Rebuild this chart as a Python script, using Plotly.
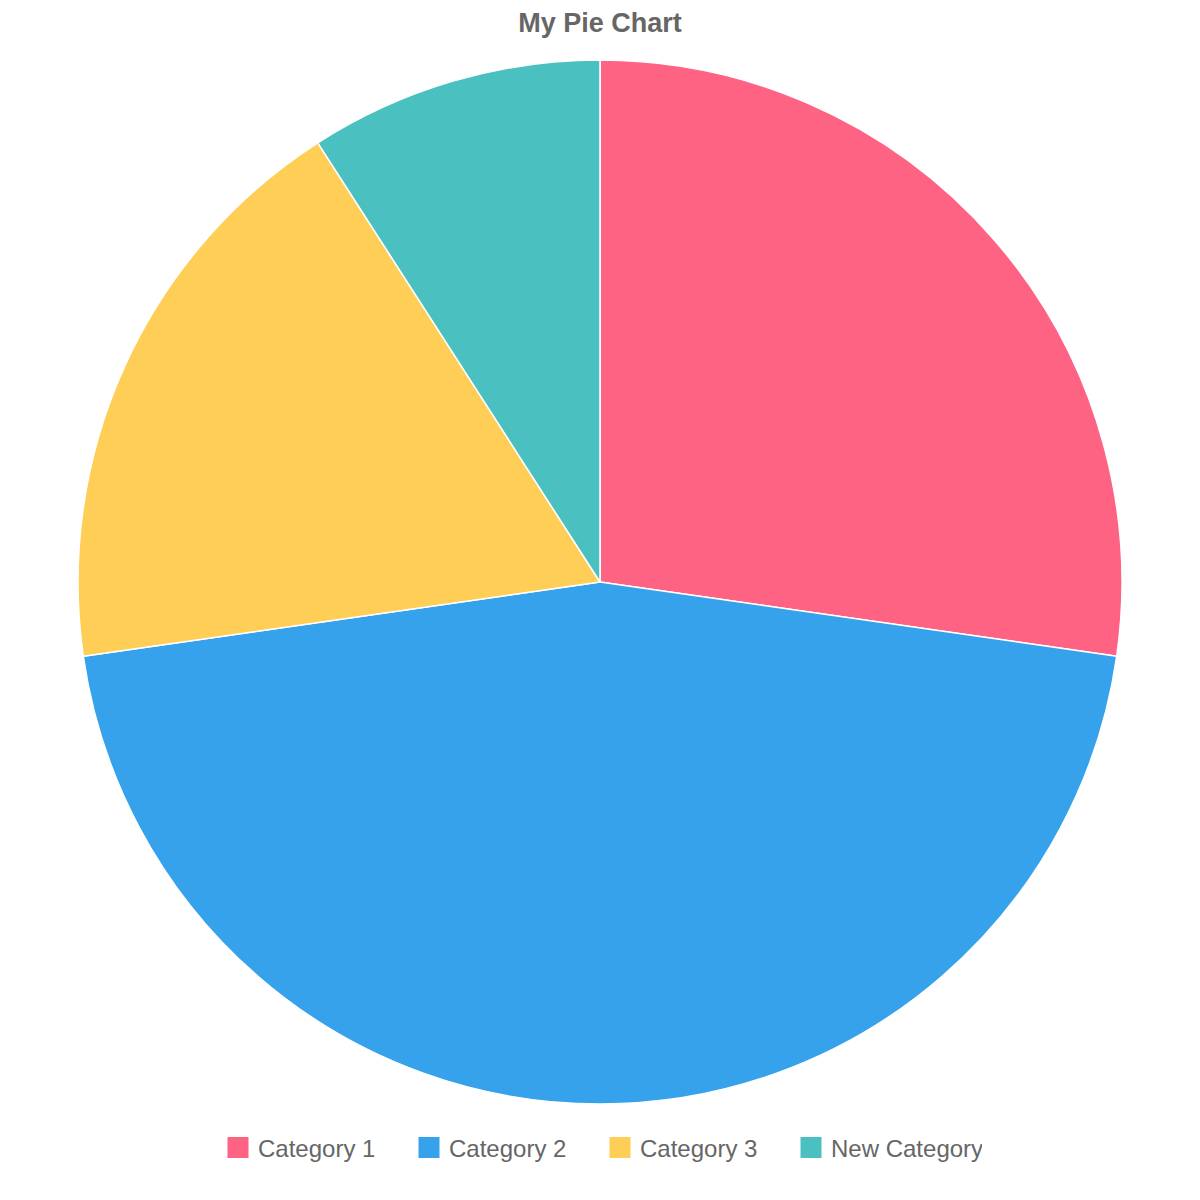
import plotly.graph_objects as go

labels = ["Category 1", "Category 2", "Category 3", "New Category"]
values = [30, 50, 20, 10]
colors = ["#FF6384", "#36A2EB", "#FFCE56", "#4BC0C0"]

fig = go.Figure()
fig.add_trace(go.Pie(
    labels=labels,
    values=values,
    sort=False,
    direction="clockwise",
    rotation=0,
    textinfo="none",
    showlegend=False,
    marker=dict(colors=colors, line=dict(color="white", width=1.5)),
))

# legend entries with bigger boxes than the pie's own legend symbols
for lab, col in zip(labels, colors):
    fig.add_trace(go.Scatter(
        x=[None], y=[None], mode="markers", name=lab,
        marker=dict(symbol="square", size=16, color=col, line=dict(color=col, width=5)),
        hoverinfo="skip",
    ))

fig.update_layout(
    width=1200,
    height=1200,
    margin=dict(l=70, r=86, t=52, b=104),
    paper_bgcolor="white",
    plot_bgcolor="white",
    xaxis=dict(visible=False),
    yaxis=dict(visible=False),
    title=dict(
        text="<b>My Pie Chart</b>",
        x=592 / 1200,
        xanchor="center",
        y=1 - 15 / 1200,
        yanchor="middle",
        font=dict(family="Liberation Sans, Arial, sans-serif", size=27, color="#666666"),
    ),
    legend=dict(
        orientation="h",
        x=0.5,
        xanchor="center",
        y=-0.042,
        yanchor="middle",
        font=dict(family="Liberation Sans, Arial, sans-serif", size=24, color="#666666"),
        entrywidth=146,
        itemwidth=30,
    ),
)

fig.write_html("out.html")
